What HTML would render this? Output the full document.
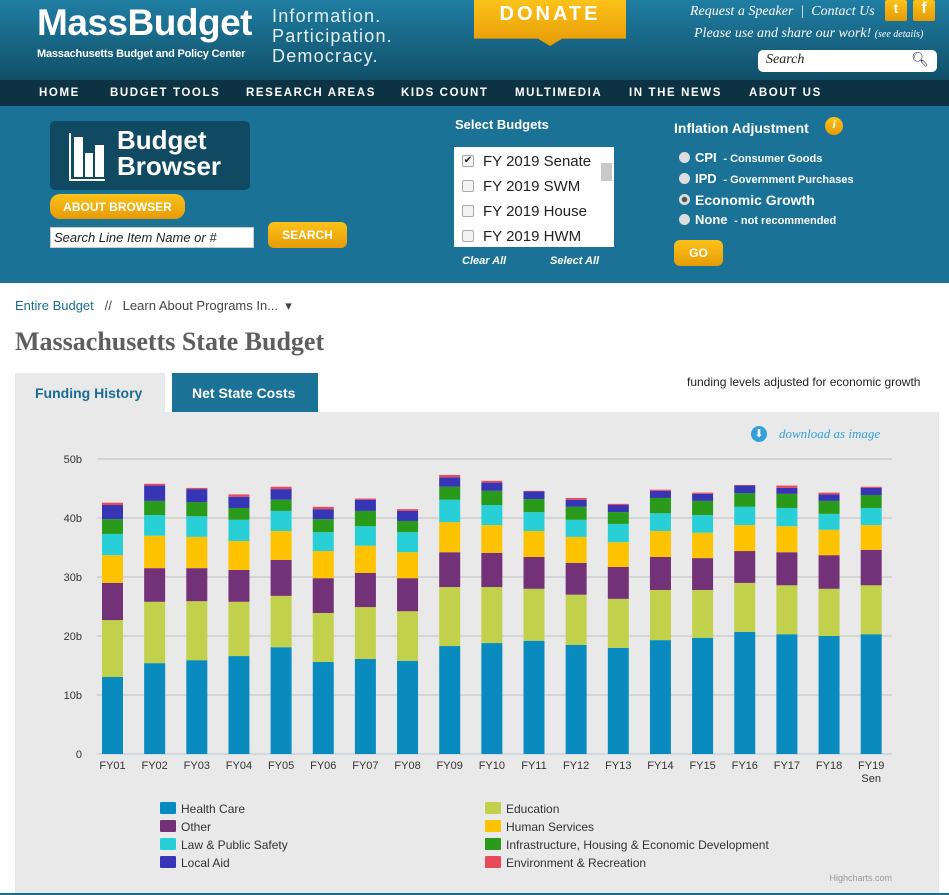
<!DOCTYPE html>
<html><head><meta charset="utf-8">
<style>
*{box-sizing:border-box;margin:0;padding:0}
body{width:949px;height:895px;overflow:hidden;background:#fff;font-family:"Liberation Sans",sans-serif;position:relative}
.abs{position:absolute}
#hdr{left:0;top:0;width:949px;height:80px;background:linear-gradient(#1f7ea3,#114f68)}
#nav{left:0;top:80px;width:949px;height:26px;background:#0c3244}
#nav span{position:absolute;top:7px;color:#fff;font-weight:bold;font-size:11.5px;letter-spacing:1.6px}
#panel{left:0;top:106px;width:949px;height:177px;background:#1b7297}
.btn{background:linear-gradient(#fcc21a,#e79b06);border-radius:6px;color:#fff;font-weight:bold;text-align:center}
.wt{color:#fff}
.serif{font-family:"Liberation Serif",serif;font-style:italic}
.cb{width:12px;height:12px;border:1px solid #aaa;border-radius:2px;background:#f3f3f3;position:absolute;left:8px}
.rad{width:11px;height:11px;border-radius:50%;background:#ddd;position:absolute}
</style></head><body>
<div id="hdr" class="abs"></div>
<div class="abs wt" style="left:37px;top:2px;font-size:37px;font-weight:bold;letter-spacing:-0.5px">MassBudget</div>
<div class="abs wt" style="left:37px;top:48px;font-size:11px;font-weight:bold;letter-spacing:-0.2px">Massachusetts Budget and Policy Center</div>
<div class="abs wt" style="left:272px;top:6px;font-size:18px;line-height:20px;letter-spacing:1.2px;color:#e4eef3">Information.<br>Participation.<br>Democracy.</div>
<div class="abs" style="left:474px;top:0;width:152px;height:46px;background:linear-gradient(#fcc21a,#e79b06);clip-path:polygon(0 0,100% 0,100% 84%,58% 84%,50% 100%,42% 84%,0 84%);border-radius:0 0 6px 6px"><div style="color:#fff;font-weight:bold;font-size:20px;letter-spacing:3px;text-align:center;padding-top:3px">DONATE</div></div>
<div class="abs wt serif" style="left:690px;top:4px;font-size:14px">Request a Speaker&nbsp; | &nbsp;Contact Us</div>
<div class="abs btn" style="left:885px;top:0;width:22px;height:21px;border-radius:2px;font-size:14px">t</div>
<div class="abs btn" style="left:913px;top:0;width:22px;height:21px;border-radius:2px;font-size:16px">f</div>
<div class="abs wt serif" style="left:694px;top:26px;font-size:14px">Please use and share our work! <span style="font-size:10px">(see details)</span></div>
<div class="abs" style="left:758px;top:50px;width:179px;height:22px;background:#fff;border-radius:5px"><span class="serif" style="position:absolute;left:8px;top:2px;font-size:14px;color:#222">Search</span><span style="position:absolute;right:8px;top:1px;font-size:14px;color:#124">&#x1F50D;&#xFE0E;</span></div>
<div id="nav" class="abs">
<span style="left:39px">HOME</span>
<span style="left:110px">BUDGET TOOLS</span>
<span style="left:246px">RESEARCH AREAS</span>
<span style="left:401px">KIDS COUNT</span>
<span style="left:515px">MULTIMEDIA</span>
<span style="left:629px">IN THE NEWS</span>
<span style="left:749px">ABOUT US</span>
</div>
<div id="panel" class="abs"></div>
<div class="abs" style="left:50px;top:121px;width:200px;height:69px;background:#0f4a62;border-radius:5px">
<svg width="60" height="60" style="position:absolute;left:15px;top:6px"><rect x="4" y="6" width="2" height="48" fill="#fff"/><rect x="4" y="52" width="36" height="2" fill="#fff"/><rect x="9" y="10" width="9" height="40" fill="#fff"/><rect x="20" y="26" width="8" height="24" fill="#fff"/><rect x="30" y="18" width="9" height="32" fill="#fff"/></svg>
<div class="wt" style="position:absolute;left:67px;top:6px;font-size:26px;font-weight:bold;line-height:26px">Budget<br>Browser</div></div>
<div class="abs btn" style="left:50px;top:194px;width:135px;height:25px;font-size:12px;padding-top:6px;border-radius:10px">ABOUT BROWSER</div>
<div class="abs" style="left:50px;top:227px;width:204px;height:21px;background:#fff;border:1px solid #ccc;font-style:italic;font-size:13px;padding:2px 3px;color:#222">Search Line Item Name or #</div>
<div class="abs btn" style="left:268px;top:222px;width:79px;height:26px;font-size:12px;padding-top:6px">SEARCH</div>
<div class="abs wt" style="left:455px;top:117px;font-size:13px;font-weight:bold">Select Budgets</div>
<div class="abs" style="left:454px;top:147px;width:160px;height:100px;background:#fff">
<div style="position:absolute;left:0;top:2px;width:145px;font-size:15px;color:#222;line-height:25px">
<div style="position:relative;padding-left:29px"><span class="cb" style="top:6px;font-size:10px;line-height:10px;text-align:center">✔</span>FY 2019 Senate</div>
<div style="position:relative;padding-left:29px"><span class="cb" style="top:6px"></span>FY 2019 SWM</div>
<div style="position:relative;padding-left:29px"><span class="cb" style="top:6px"></span>FY 2019 House</div>
<div style="position:relative;padding-left:29px"><span class="cb" style="top:6px"></span>FY 2019 HWM</div></div>
<div style="position:absolute;right:2px;top:16px;width:11px;height:18px;background:#c8c8c8"></div></div>
<div class="abs wt" style="left:462px;top:255px;font-size:11px;font-weight:bold;font-style:italic">Clear All</div>
<div class="abs wt" style="left:550px;top:255px;font-size:11px;font-weight:bold;font-style:italic">Select All</div>
<div class="abs wt" style="left:674px;top:120px;font-size:14px;font-weight:bold">Inflation Adjustment</div>
<div class="abs btn" style="left:825px;top:117px;width:18px;height:18px;border-radius:50%;font-size:12px;font-style:italic;font-family:'Liberation Serif',serif">i</div>
<div class="abs wt" style="left:679px;top:148px;font-weight:bold;line-height:20px">
<div style="position:relative;padding-left:16px;font-size:13px"><span class="rad" style="left:0;top:4px"></span>CPI <span style="font-size:11px">&nbsp;- Consumer Goods</span></div>
<div style="position:relative;padding-left:16px;font-size:13px"><span class="rad" style="left:0;top:4px"></span>IPD <span style="font-size:11px">&nbsp;- Government Purchases</span></div>
<div style="position:relative;padding-left:16px;font-size:14px"><span class="rad" style="left:0;top:4px;background:radial-gradient(#555 30%,#ddd 40%)"></span>Economic Growth</div>
<div style="position:relative;padding-left:16px;font-size:13px"><span class="rad" style="left:0;top:4px"></span>None <span style="font-size:11px">&nbsp;- not recommended</span></div></div>
<div class="abs btn" style="left:674px;top:240px;width:49px;height:26px;font-size:12px;padding-top:6px">GO</div>
<div class="abs" style="left:15px;top:298px;font-size:13px;color:#1b6c93">Entire Budget <span style="color:#444">&nbsp;&nbsp;//&nbsp;&nbsp; Learn About Programs In... &nbsp;▾</span></div>
<div class="abs" style="left:15px;top:327px;font-family:'Liberation Serif',serif;font-weight:bold;font-size:26px;color:#5e5e5e">Massachusetts State Budget</div>
<div class="abs" style="left:15px;top:373px;width:150px;height:40px;background:#e9e9e9;color:#1b6c93;font-weight:bold;font-size:14px;padding:12px 0 0 20px">Funding History</div>
<div class="abs" style="left:172px;top:373px;width:146px;height:40px;background:#1b7297;color:#fff;font-weight:bold;font-size:14px;padding:12px 0 0 20px">Net State Costs</div>
<div class="abs" style="left:687px;top:375px;font-size:12px;color:#222">funding levels adjusted for economic growth</div>
<div class="abs" style="left:15px;top:412px;width:924px;height:481px;background:#e9e9e9"></div>
<div class="abs" style="left:0;top:893px;width:949px;height:2px;background:#1b6c93"></div>
<div class="abs" style="left:751px;top:426px;width:16px;height:16px;border-radius:50%;background:#35a0d8;color:#fff;font-size:11px;text-align:center;line-height:16px">⬇</div>
<div class="abs serif" style="left:779px;top:426px;font-size:13px;color:#35a0d8">download as image</div>
<svg id="chart" class="abs" style="left:0;top:0" width="949" height="895"></svg>
<script>
const categories=["FY01","FY02","FY03","FY04","FY05","FY06","FY07","FY08","FY09","FY10","FY11","FY12","FY13","FY14","FY15","FY16","FY17","FY18","FY19"];
const seriesNames=["Health Care","Education","Other","Human Services","Law & Public Safety","Infrastructure, Housing & Economic Development","Local Aid","Environment & Recreation"];
const seriesColors=["#0a8bbf","#c2d14c","#733177","#fdc300","#29cfd6","#2a9a1a","#3535b5","#e84a5a"];
const healthCare=[13.05,15.4,15.9,16.6,18.1,15.6,16.1,15.8,18.3,18.8,19.2,18.5,18.0,19.3,19.7,20.7,20.3,20.0,20.3];
const education=[9.65,10.4,10.0,9.2,8.7,8.3,8.8,8.4,10.0,9.5,8.8,8.5,8.3,8.5,8.1,8.3,8.3,8.0,8.3];
const other=[6.3,5.7,5.6,5.4,6.1,5.9,5.8,5.6,5.9,5.8,5.4,5.4,5.4,5.6,5.4,5.4,5.6,5.7,6.0];
const humanServices=[4.7,5.5,5.3,4.9,4.9,4.6,4.6,4.4,5.1,4.7,4.4,4.4,4.2,4.4,4.3,4.4,4.4,4.3,4.2];
const lawSafety=[3.6,3.5,3.5,3.6,3.4,3.2,3.3,3.4,3.8,3.4,3.2,2.9,3.1,3.0,3.0,3.1,3.1,2.7,2.9];
const infrastructure=[2.5,2.4,2.4,2.0,1.9,2.2,2.6,1.9,2.2,2.4,2.2,2.2,2.0,2.6,2.4,2.3,2.4,2.2,2.2];
const localAid=[2.4,2.6,2.2,1.9,1.8,1.7,1.9,1.7,1.6,1.4,1.3,1.2,1.2,1.2,1.2,1.3,1.0,1.1,1.2];
const environment=[0.4,0.3,0.2,0.4,0.4,0.4,0.2,0.3,0.4,0.3,0.1,0.3,0.2,0.2,0.2,0.1,0.4,0.3,0.2];
const yTicks=[0,10,20,30,40,50];
const yTickLabels=["0","10b","20b","30b","40b","50b"];
const allSeries=[healthCare,education,other,humanServices,lawSafety,infrastructure,localAid,environment];
const NS="http://www.w3.org/2000/svg";
const svg=document.getElementById('chart');
const plotL=97,plotR=892,y0=754,pxPerB=5.9;
function yScale(v){return y0-v*pxPerB;}
function xScale(i){return 102+i*42.15;}
const barW=21;
function mk(tag,attrs){const e=document.createElementNS(NS,tag);for(const k in attrs)e.setAttribute(k,attrs[k]);svg.appendChild(e);return e;}
yTicks.forEach((t,i)=>{
  const l=mk('line',{x1:plotL,x2:plotR,y1:yScale(t),y2:yScale(t),stroke:i==0?'#b8c8d8':'#c0c0c0','stroke-width':1});
  
  
  const tx=mk('text',{x:82,y:yScale(t)+4,'text-anchor':'end','font-size':11,fill:'#333','font-family':'Liberation Sans'});
  tx.textContent=yTickLabels[i];
  
  
});
categories.forEach((c,i)=>{
  let cum=0;
  allSeries.forEach((s,k)=>{
    const v=s[i];
    const r=mk('rect',{x:xScale(i),y:yScale(cum+v),width:barW,height:v*pxPerB,fill:seriesColors[k]});
    
    
    cum+=v;
  });
  const tx=mk('text',{x:xScale(i)+barW/2,y:769,'text-anchor':'middle','font-size':11,fill:'#333','font-family':'Liberation Sans'});
  tx.textContent=c;
  
  
  if(i==categories.length-1){const t2=mk('text',{x:xScale(i)+barW/2,y:782,'text-anchor':'middle','font-size':11,fill:'#333','font-family':'Liberation Sans'});t2.textContent='Sen';
  
  }
});
seriesNames.forEach((n,k)=>{
  const col=k%2, row=Math.floor(k/2);
  const lx=col==0?160:485, ly=802+row*18;
  const r=mk('rect',{x:lx,y:ly,width:16,height:12,fill:seriesColors[k],rx:1});
  
  
  const t=mk('text',{x:lx+21,y:ly+11,'font-size':12,fill:'#333','font-family':'Liberation Sans'});
  t.textContent=n;
  
  
});
const cr=mk('text',{x:892,y:881,'text-anchor':'end','font-size':9,fill:'#999','font-family':'Liberation Sans'});
cr.textContent='Highcharts.com';


</script>
</body></html>
